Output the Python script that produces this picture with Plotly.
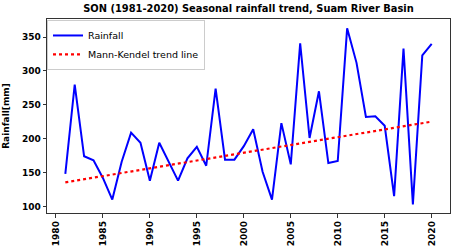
import plotly.graph_objects as go

years = list(range(1981, 2021))
rainfall = [148, 280, 174, 168, 142, 110, 166, 209, 194, 138,
            194, 166, 138, 171, 188, 160, 274, 169, 169, 189,
            214, 151, 110, 223, 162, 341, 201, 270, 164, 167,
            363, 312, 232, 233, 219, 115, 333, 103, 323, 340]
trend_years = [1981, 2020]
trend_values = [135.5, 225.2]

x_ticks = [1980, 1985, 1990, 1995, 2000, 2005, 2010, 2015, 2020]
y_ticks = [100, 150, 200, 250, 300, 350]

font = "DejaVu Sans"

fig = go.Figure()
fig.add_trace(go.Scatter(x=years, y=rainfall, mode="lines", name="Rainfall",
                         line=dict(color="#0000ff", width=2)))
fig.add_trace(go.Scatter(x=trend_years, y=trend_values, mode="lines",
                         name="Mann-Kendel trend line",
                         line=dict(color="#ff0000", width=2.2, dash="dot")))

axis_common = dict(showgrid=False, zeroline=False, showline=True, mirror=True,
                   linecolor="#333333", linewidth=1, ticks="outside", ticklen=3.5,
                   tickwidth=1, tickcolor="#333333",
                   tickfont=dict(family=font, size=9, color="black", weight="bold"))

fig.update_layout(
    width=453, height=248,
    margin=dict(l=47, r=2, t=19, b=33),
    paper_bgcolor="white", plot_bgcolor="white",
    title=dict(text="<b>SON (1981-2020) Seasonal rainfall trend, Suam River Basin</b>",
               x=0.5, xref="paper", xanchor="center", y=0.965, yanchor="middle",
               font=dict(family=font, size=9.9, color="black")),
    xaxis=dict(range=[1979.05, 2021.95], tickvals=x_ticks, tickangle=-90,
               **axis_common),
    yaxis=dict(range=[90.2, 376.8], tickvals=y_ticks,
               title=dict(text="<b>Rainfall[mm]</b>", standoff=10,
                          font=dict(family=font, size=9, color="black")),
               **axis_common),
    legend=dict(x=0.0, y=0.995, xanchor="left", yanchor="top",
                bgcolor="rgba(255,255,255,0.8)", bordercolor="#cccccc", borderwidth=1,
                font=dict(family=font, size=9.5, color="black"),
                tracegroupgap=0, itemwidth=30),
    showlegend=True,
)

fig.write_html("out.html", config={"displayModeBar": False},
               post_script="document.body.style.margin='0';document.body.style.overflow='hidden';")
